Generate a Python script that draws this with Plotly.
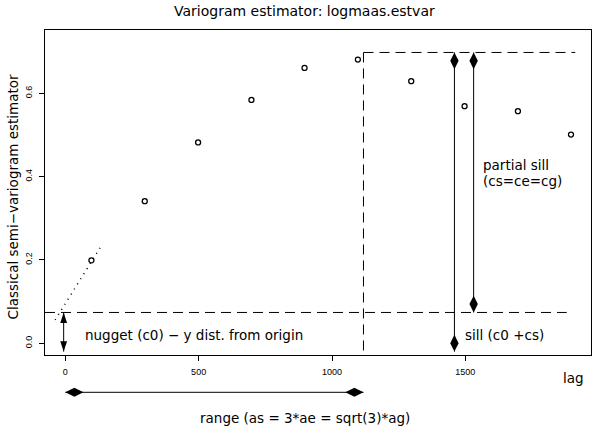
import plotly.graph_objects as go

lags = [98, 298, 498, 698, 897, 1097, 1297, 1497, 1697, 1896]
gamma = [0.199, 0.341, 0.482, 0.584, 0.661, 0.681, 0.629, 0.569, 0.557, 0.501]

# initial slope guide (dotted)
slope_x = [-38, 140]
slope_y = [0.056, 0.239]

# annotated model parameters
nugget = 0.074
sill = 0.698
rng = 1118
arrow_low = -0.02
sill_x = 1459
psill_x = 1531
nug_x = -6

x_ticks = [0, 500, 1000, 1500]
y_ticks = [0.0, 0.2, 0.4, 0.6]

X_RANGE = [-76, 1971]
Y_RANGE = [-0.0281, 0.7519]

W, H = 592, 428
ML, MR, MT, MB = 45, 1, 30, 0
plot_w = W - ML - MR
main_bottom_px = 355
paper_h = H - MT - MB
main_lo = (H - MB - main_bottom_px) / paper_h
plot_h = main_bottom_px - MT

# pixel -> data scale, for putting arrow heads with their tips on the ends
dy = (Y_RANGE[1] - Y_RANGE[0]) / plot_h
dx = (X_RANGE[1] - X_RANGE[0]) / plot_w
TALL = 12
WIDE = 13
off_y = 0.7 * TALL * dy
off_x = 0.7 * WIDE * dx

def px(xp):
    return (xp - ML) / plot_w

def py(yp):
    return (H - MB - yp) / paper_h

BLACK = "black"
TXT = dict(family="DejaVu Sans", size=13.5, color=BLACK)
dash = "10px,6px"

fig = go.Figure()

# points
fig.add_trace(go.Scatter(x=lags, y=gamma, mode="markers",
                         marker=dict(symbol="circle-open", size=5, color=BLACK,
                                     line=dict(width=1.3, color=BLACK))))

# dotted slope
fig.add_trace(go.Scatter(x=slope_x, y=slope_y, mode="lines",
                         line=dict(color=BLACK, width=1.5, dash="1px,5px")))

# nugget and sill dashed lines
fig.add_trace(go.Scatter(x=[X_RANGE[0], 1880], y=[nugget, nugget], mode="lines",
                         line=dict(color=BLACK, width=1, dash=dash)))
fig.add_trace(go.Scatter(x=[rng, 1912], y=[sill, sill], mode="lines",
                         line=dict(color=BLACK, width=1, dash=dash)))
fig.add_trace(go.Scatter(x=[rng, rng], y=[sill, Y_RANGE[0]], mode="lines",
                         line=dict(color=BLACK, width=1, dash=dash)))

# sill arrow and partial sill arrow
for ax_x, lo in [(sill_x, arrow_low), (psill_x, nugget)]:
    fig.add_trace(go.Scatter(x=[ax_x, ax_x], y=[lo, sill], mode="lines",
                             line=dict(color=BLACK, width=1)))
    fig.add_trace(go.Scatter(x=[ax_x, ax_x], y=[lo + off_y, sill - off_y], mode="markers",
                             marker=dict(symbol="diamond-tall", size=TALL, color=BLACK,
                                         line=dict(width=0))))

# nugget arrow
fig.add_trace(go.Scatter(x=[nug_x, nug_x], y=[arrow_low, nugget], mode="lines",
                         line=dict(color=BLACK, width=1)))
fig.add_trace(go.Scatter(x=[nug_x, nug_x], y=[arrow_low, nugget], mode="markers",
                         marker=dict(symbol="arrow", size=11, color=BLACK, angle=[180, 0],
                                     line=dict(width=0))))

# range arrow, below the axis on its own hidden strip
fig.add_trace(go.Scatter(x=[0, rng], y=[0, 0], mode="lines", xaxis="x2", yaxis="y2",
                         line=dict(color=BLACK, width=1)))
fig.add_trace(go.Scatter(x=[off_x, rng - off_x], y=[0, 0], mode="markers", xaxis="x2", yaxis="y2",
                         marker=dict(symbol="diamond-wide", size=WIDE, color=BLACK,
                                     line=dict(width=0))))

annots = [
    dict(text="Variogram estimator: logmaas.estvar", x=px(304), y=py(11),
         xref="paper", yref="paper", font=dict(family="DejaVu Sans", size=14, color=BLACK)),
    dict(text="Classical semi\u2212variogram estimator", x=px(12), y=py(196.5),
         xref="paper", yref="paper", textangle=-90, font=TXT),
    dict(text="lag", x=px(573), y=py(378), xref="paper", yref="paper", font=TXT),
    dict(text="range (as = 3*ae = sqrt(3)*ag)", x=px(304.5), y=py(418),
         xref="paper", yref="paper", font=TXT),
    dict(text="nugget (c0) \u2212 y dist. from origin", x=66, y=0.019,
         xref="x", yref="y", xanchor="left", font=TXT),
    dict(text="sill (c0 +cs)", x=1491, y=0.021, xref="x", yref="y", xanchor="left", font=TXT),
    dict(text="partial sill", x=1560, y=0.428, xref="x", yref="y", xanchor="left", font=TXT),
    dict(text="(cs=ce=cg)", x=1560, y=0.39, xref="x", yref="y", xanchor="left", font=TXT),
]
for a in annots:
    a.setdefault("xanchor", "center")
    a.update(showarrow=False, yanchor="middle")

axis_common = dict(showgrid=False, zeroline=False, showline=True, mirror=True,
                   linecolor=BLACK, linewidth=1, ticks="outside", ticklen=5,
                   tickcolor=BLACK, tickwidth=1,
                   tickfont=dict(family="Liberation Sans", size=9, color=BLACK))

fig.update_layout(
    width=W, height=H, margin=dict(l=ML, r=MR, t=MT, b=MB),
    plot_bgcolor="white", paper_bgcolor="white", showlegend=False,
    xaxis=dict(domain=[0, 1], anchor="y", range=X_RANGE, tickvals=x_ticks,
               ticklabelstandoff=3, **axis_common),
    yaxis=dict(domain=[main_lo, 1], anchor="x", range=Y_RANGE, tickvals=y_ticks,
               tickformat=".1f", tickangle=-90, ticklabelstandoff=3, **axis_common),
    xaxis2=dict(domain=[0, 1], anchor="y2", range=X_RANGE, visible=False),
    yaxis2=dict(domain=[py(404.3), py(380.3)], anchor="x2", range=[-1, 1], visible=False),
    annotations=annots,
)

fig.write_html("out.html", config={"displayModeBar": False},
               post_script="document.body.style.margin='0';")
